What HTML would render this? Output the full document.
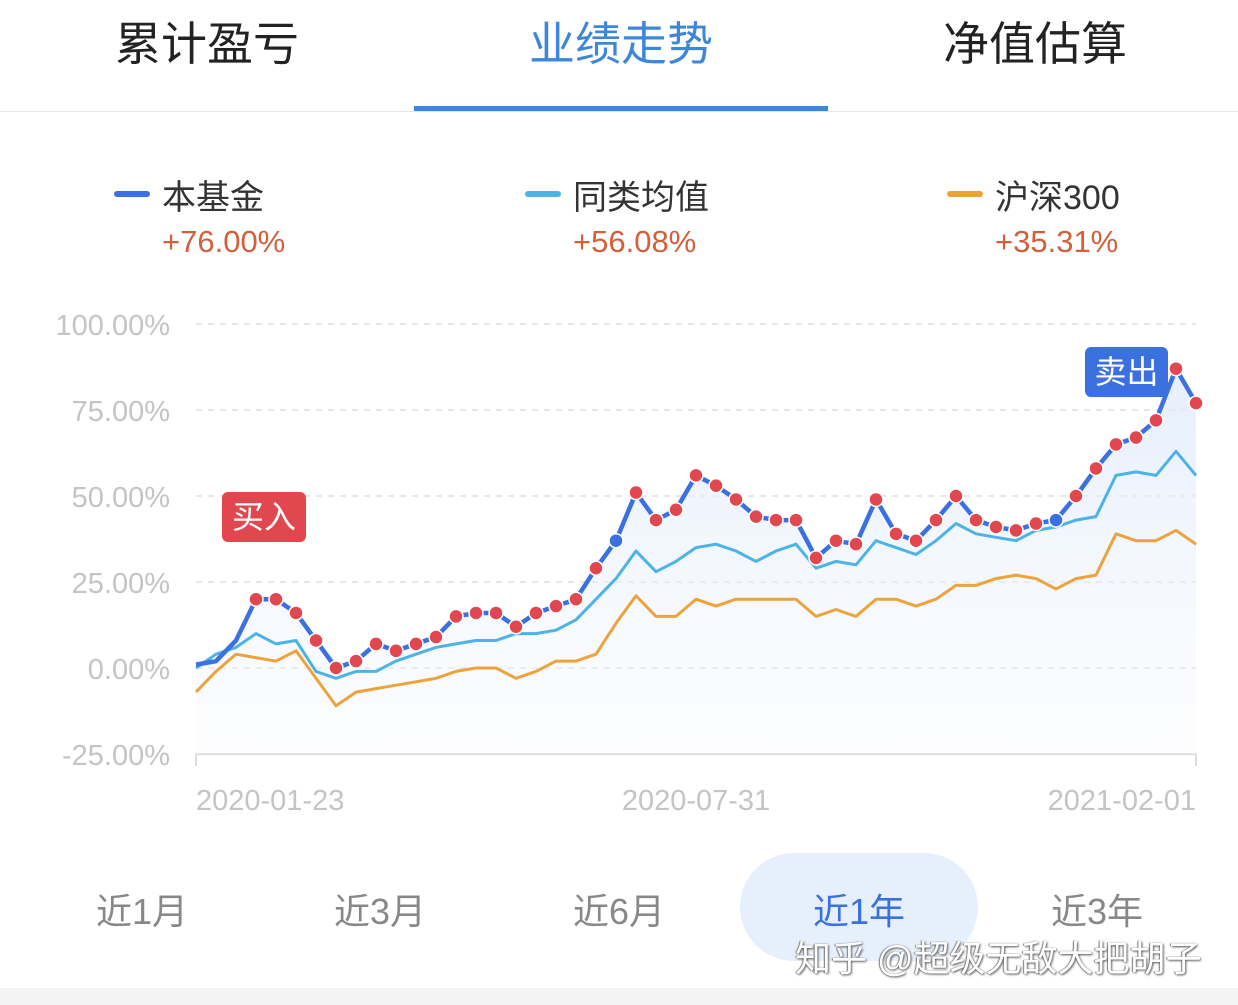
<!DOCTYPE html>
<html><head><meta charset="utf-8"><style>
body{margin:0;width:1238px;height:1005px;background:#fff;position:relative;overflow:hidden;font-family:"Liberation Sans","Noto Sans CJK SC",sans-serif}
.abs{position:absolute}
.tab{position:absolute;top:8px;font-size:46px;color:#222;width:414px;text-align:center}
.leg{position:absolute;font-size:34px;color:#333}
.pct{position:absolute;font-size:31px;color:#d2603a}
.rng{position:absolute;top:883px;font-size:36px;color:#888;width:200px;text-align:center}
</style></head><body>
<div class="tab" style="left:0">累计盈亏</div>
<div class="tab" style="left:414px;color:#3d87d9">业绩走势</div>
<div class="tab" style="left:828px">净值估算</div>
<div class="abs" style="left:414px;top:106px;width:414px;height:6px;background:#3d87d9"></div>
<div class="abs" style="left:0;top:111px;width:1238px;height:1px;background:#e6e6e6"></div>

<div class="abs" style="left:114px;top:191px;width:36px;height:6px;border-radius:3px;background:#3a70e0"></div>
<div class="leg" style="left:162px;top:170px">本基金</div>
<div class="pct" style="left:162px;top:224px">+76.00%</div>
<div class="abs" style="left:525px;top:191px;width:36px;height:6px;border-radius:3px;background:#4db3e6"></div>
<div class="leg" style="left:573px;top:170px">同类均值</div>
<div class="pct" style="left:573px;top:224px">+56.08%</div>
<div class="abs" style="left:947px;top:191px;width:36px;height:6px;border-radius:3px;background:#eca33b"></div>
<div class="leg" style="left:995px;top:170px">沪深300</div>
<div class="pct" style="left:995px;top:224px">+35.31%</div>

<svg id="chart" class="abs" style="left:0;top:0" width="1238" height="840"></svg>

<div class="abs" style="left:740px;top:853px;width:238px;height:108px;border-radius:54px;background:#e6f0fc"></div>
<div class="rng" style="left:42px">近1月</div>
<div class="rng" style="left:280px">近3月</div>
<div class="rng" style="left:519px">近6月</div>
<div class="rng" style="left:759px;color:#3a70e0">近1年</div>
<div class="rng" style="left:997px">近3年</div>
<div class="abs" style="left:795px;top:930px;font-size:36px;color:#fff;text-shadow:1px 1px 2px #555,-1px 0 1px #777">知乎 @超级无敌大把胡子</div>
<div class="abs" style="left:0;top:988px;width:1238px;height:17px;background:#f4f4f4"></div>

<script>
const yTicks=[100,75,50,25,0,-25];
const yTickLabels=["100.00%","75.00%","50.00%","25.00%","0.00%","-25.00%"];
const xTickLabels=["2020-01-23","2020-07-31","2021-02-01"];
const fund=[1,2,8,20,20,16,8,0,2,7,5,7,9,15,16,16,12,16,18,20,29,37,51,43,46,56,53,49,44,43,43,32,37,36,49,39,37,43,50,43,41,40,42,43,50,58,65,67,72,87,77];
const peer=[0,4,6,10,7,8,-1,-3,-1,-1,2,4,6,7,8,8,10,10,11,14,20,26,34,28,31,35,36,34,31,34,36,29,31,30,37,35,33,37,42,39,38,37,40,41,43,44,56,57,56,63,56];
const hs300=[-7,-1,4,3,2,5,-3,-11,-7,-6,-5,-4,-3,-1,0,0,-3,-1,2,2,4,13,21,15,15,20,18,20,20,20,20,15,17,15,20,20,18,20,24,24,26,27,26,23,26,27,39,37,37,40,36];
const blueDots=[21,43];
const NS="http://www.w3.org/2000/svg";
const svg=document.getElementById('chart');
const X0=196,X1=1196;
const xs=i=>X0+(X1-X0)*i/(fund.length-1);
const ys=v=>668-v*3.44;
function mk(tag,attrs){const e=document.createElementNS(NS,tag);for(const k in attrs)e.setAttribute(k,attrs[k]);svg.appendChild(e);return e;}
const defs=mk('defs',{});
defs.innerHTML='<linearGradient id="g" x1="0" y1="0" x2="0" y2="1"><stop offset="0" stop-color="#dfeafb" stop-opacity="0.8"/><stop offset="1" stop-color="#f4f7fd" stop-opacity="0.3"/></linearGradient>';
yTicks.forEach((t,i)=>{
 const gl=mk('line',{x1:196,x2:1196,y1:ys(t),y2:ys(t),stroke:'#ddd','stroke-dasharray':'6 6','stroke-width':1.5});
 
 const tx=mk('text',{x:170,y:ys(t)+11,'text-anchor':'end','font-size':29,fill:'#c4c4c4','font-family':'Liberation Sans, sans-serif'});
 tx.textContent=yTickLabels[i];
 
});
const ax=mk('line',{x1:196,x2:1196,y1:754,y2:754,stroke:'#ddd','stroke-width':2});

[196,1196].forEach(x=>{const t=mk('line',{x1:x,x2:x,y1:754,y2:766,stroke:'#ddd','stroke-width':2});});
const xl=[[196,'start'],[696,'middle'],[1196,'end']];
xTickLabels.forEach((l,i)=>{const t=mk('text',{x:xl[i][0],y:810,'text-anchor':xl[i][1],'font-size':29,fill:'#c4c4c4','font-family':'Liberation Sans, sans-serif'});t.textContent=l;});
const pts=a=>a.map((v,i)=>xs(i).toFixed(1)+','+ys(v).toFixed(1)).join(' ');
const area=mk('polygon',{points:pts(fund)+` ${X1},754 ${X0},754`,fill:'url(#g)'});

const l3=mk('polyline',{points:pts(hs300),fill:'none',stroke:'#eca33b','stroke-width':3,'stroke-linejoin':'round'});

const l2=mk('polyline',{points:pts(peer),fill:'none',stroke:'#4db3e6','stroke-width':3,'stroke-linejoin':'round'});

const l1=mk('polyline',{points:pts(fund),fill:'none',stroke:'#3a70e0','stroke-width':4.5,'stroke-linejoin':'round'});

fund.forEach((v,i)=>{
 if(i<3)return;
 const c=mk('circle',{cx:xs(i),cy:ys(v),r:7,fill:blueDots.includes(i)?'#3a70e0':'#e0474f',stroke:'#fff','stroke-width':1.5});
 
});
function tag(x,y,w,txt,col,name){
 const r=mk('rect',{x:x,y:y,width:w,height:50,rx:6,fill:col});
 
 const t=mk('text',{x:x+w/2,y:y+36,'text-anchor':'middle','font-size':32,fill:'#fff','font-family':'Noto Sans CJK SC, sans-serif'});t.textContent=txt;
 
}
tag(222,492,84,'买入','#e0474f','buy-label');
tag(1085,347,83,'卖出','#3a70e0','sell-label');
</script>
</body></html>
